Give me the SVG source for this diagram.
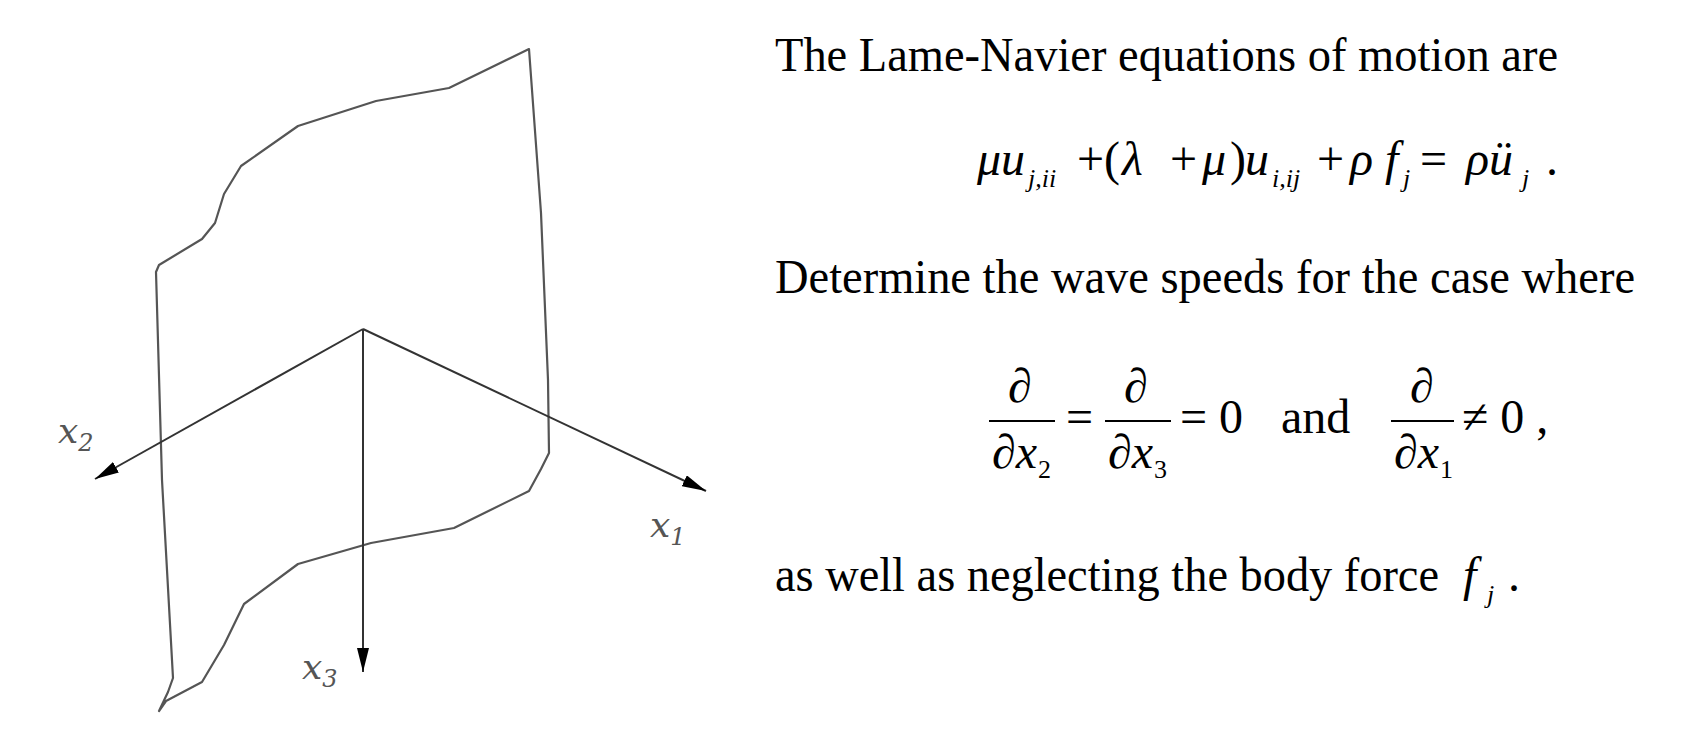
<svg xmlns="http://www.w3.org/2000/svg" width="1689" height="738" viewBox="0 0 1689 738">
<style>
.ln{fill:none;stroke:#555;stroke-width:2.2;stroke-linejoin:round}
.ax{stroke:#333;stroke-width:2}
.t{font-family:"Liberation Serif",serif;font-size:48px;fill:#000}
.m{font-family:"Liberation Serif","DejaVu Serif",serif;font-style:italic;font-size:48px;fill:#000}
.s{font-family:"Liberation Serif","DejaVu Serif",serif;font-style:italic;font-size:26px;fill:#000}
.n{font-family:"Liberation Serif",serif;font-size:26px;fill:#000}
.lab{font-family:"DejaVu Serif",serif;font-style:italic;font-size:36px;fill:#555}
.labs{font-family:"DejaVu Serif",serif;font-size:24px;fill:#555}
</style>
<defs>
<marker id="ar2" viewBox="0 0 24 12" refX="24" refY="6" markerWidth="24" markerHeight="12" markerUnits="userSpaceOnUse" orient="auto"><path d="M0,0 L24,6 L0,12 Z" fill="#000"/></marker>
</defs>
<rect width="1689" height="738" fill="#fff"/>
<g id="surface">
<path class="ln" d="M529,49 L449,88 L376,101 L298,126 L241,166 L224,194 L215,223 L202,239 L159,265 L156,272 L162,480 L173,678 L168,692 L159,711 L166,701 L202,682 L224,645 L244,604 L298,564 L371,543 L454,528 L529,491 L541,469 L549,453 L548,380 L541,213 Z"/>
</g>
<g id="connectors">
<line class="ax" x1="363" y1="329" x2="95" y2="479" marker-end="url(#ar2)"/>
<line class="ax" x1="363" y1="329" x2="706" y2="491" marker-end="url(#ar2)"/>
<line class="ax" x1="363" y1="329" x2="363" y2="672" marker-end="url(#ar2)"/>
</g>
<g id="labels">
<text x="58" y="443" class="lab">x<tspan class="labs" dy="8">2</tspan></text>
<text x="650" y="537" class="lab">x<tspan class="labs" dy="8">1</tspan></text>
<text x="302" y="679" class="lab">x<tspan class="labs" dy="8">3</tspan></text>
</g>
<g id="text">
<text x="775" y="71" class="t" textLength="783" lengthAdjust="spacingAndGlyphs">The Lame-Navier equations of motion are</text>
<text x="977" y="175" class="m">μu</text>
<text x="1028" y="187" class="s">j,ii</text>
<text x="1077" y="175" class="t">+(</text>
<text x="1122" y="175" class="m">λ</text>
<text x="1170" y="175" class="t">+</text>
<text x="1202" y="175" class="m">μ</text>
<text x="1230" y="175" class="t">)</text>
<text x="1245" y="175" class="m">u</text>
<text x="1272" y="187" class="s">i,ij</text>
<text x="1317" y="175" class="t">+</text>
<text x="1350" y="175" class="m">ρ f</text>
<text x="1403" y="187" class="s">j</text>
<text x="1420" y="175" class="t">=</text>
<text x="1466" y="175" class="m">ρü</text>
<text x="1522" y="187" class="s">j</text>
<text x="1546" y="175" class="t">.</text>
<text x="775" y="293" class="t" textLength="860" lengthAdjust="spacingAndGlyphs">Determine the wave speeds for the case where</text>
<text x="1008" y="402" class="m">∂</text>
<line x1="989" y1="421" x2="1055" y2="421" stroke="#000" stroke-width="2"/>
<text x="992" y="468" class="m">∂x</text>
<text x="1038" y="478" class="n">2</text>
<text x="1066" y="433" class="t">=</text>
<text x="1124" y="402" class="m">∂</text>
<line x1="1105" y1="421" x2="1171" y2="421" stroke="#000" stroke-width="2"/>
<text x="1108" y="468" class="m">∂x</text>
<text x="1154" y="478" class="n">3</text>
<text x="1180" y="433" class="t">= 0</text>
<text x="1281" y="433" class="t">and</text>
<text x="1410" y="402" class="m">∂</text>
<line x1="1391" y1="421" x2="1454" y2="421" stroke="#000" stroke-width="2"/>
<text x="1394" y="468" class="m">∂x</text>
<text x="1440" y="478" class="n">1</text>
<text x="1462" y="433" class="t">≠ 0 ,</text>
<text x="775" y="591" class="t" textLength="664" lengthAdjust="spacingAndGlyphs">as well as neglecting the body force</text>
<text x="1463" y="591" class="m">f</text>
<text x="1487" y="603" class="s">j</text>
<text x="1508" y="591" class="t">.</text>
</g>
</svg>
